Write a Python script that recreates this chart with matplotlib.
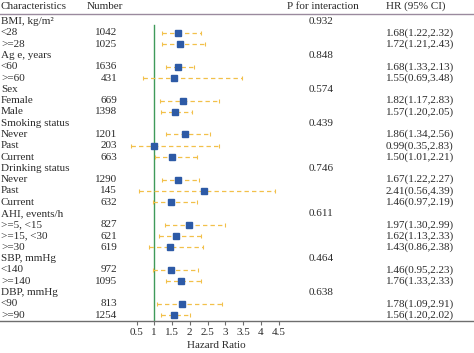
import matplotlib
matplotlib.use('Agg')
import matplotlib.pyplot as plt

groups = ['BMI, kg/m\u00b2', 'Ag e, years', 'Sex', 'Smoking status',
          'Drinking status', 'AHI, events/h', 'SBP, mmHg', 'DBP, mmHg']
p_inter = ['0.932', '0.848', '0.574', '0.439', '0.746', '0.611', '0.464', '0.638']
subgroups = [
    ['<28', '>=28'],
    ['<60', '>=60'],
    ['Female', 'Male'],
    ['Never', 'Past', 'Current'],
    ['Never', 'Past', 'Current'],
    ['>=5, <15', '>=15, <30', '>=30'],
    ['<140', '>=140'],
    ['<90', '>=90'],
]
numbers = [[1042, 1025], [1636, 431], [669, 1398], [1201, 203, 663],
           [1290, 145, 632], [827, 621, 619], [972, 1095], [813, 1254]]
hr = [[1.68, 1.72], [1.68, 1.55], [1.82, 1.57], [1.86, 0.99, 1.50],
      [1.67, 2.41, 1.46], [1.97, 1.62, 1.43], [1.46, 1.76], [1.78, 1.56]]
lo = [[1.22, 1.21], [1.33, 0.69], [1.17, 1.20], [1.34, 0.35, 1.01],
      [1.22, 0.56, 0.97], [1.30, 1.13, 0.86], [0.95, 1.33], [1.09, 1.20]]
hi = [[2.32, 2.43], [2.13, 3.48], [2.83, 2.05], [2.56, 2.83, 2.21],
      [2.27, 4.39, 2.19], [2.99, 2.33, 2.38], [2.23, 2.33], [2.91, 2.02]]
xticks = [0.5, 1, 1.5, 2, 2.5, 3, 3.5, 4, 4.5]

plt.rcParams['font.family'] = ['Liberation Serif', 'DejaVu Serif']
TXT = '#2b2b2b'
FS = 8.0

fig = plt.figure(figsize=(4.74, 3.53), dpi=100)
ax = fig.add_axes([0, 0.0907, 1, 0.9086])
# x range chosen so that HR 1 sits at ~154 px and 4.5 at ~278 px
ax.set_xlim(-3.346, 10.006)
ax.set_ylim(26.53, -1.9)
tr = ax.get_yaxis_transform()

# header
hy = -1.35
ax.text(0.002, hy, 'Characteristics', transform=tr, ha='left', va='center', fontsize=FS, color=TXT)
ax.text(0.183, hy, 'Number', transform=tr, ha='left', va='center', fontsize=FS, color=TXT)
ax.text(0.605, hy, 'P for interaction', transform=tr, ha='left', va='center', fontsize=FS, color=TXT)
ax.text(0.814, hy, 'HR (95% CI)', transform=tr, ha='left', va='center', fontsize=FS, color=TXT)
ax.axhline(-0.64, color='#9a8a9e', lw=1.0)

row = 0
for g, name in enumerate(groups):
    ax.text(0.002, row, name, transform=tr, ha='left', va='center', fontsize=FS, color=TXT)
    ax.text(0.651, row, p_inter[g], transform=tr, ha='left', va='center', fontsize=FS, color=TXT)
    row += 1
    for k, sub in enumerate(subgroups[g]):
        ax.text(0.002, row, sub, transform=tr, ha='left', va='center', fontsize=FS, color=TXT)
        ax.text(0.247, row, str(numbers[g][k]), transform=tr, ha='right', va='center',
                fontsize=FS, color=TXT)
        ax.text(0.814, row, f'{hr[g][k]:.2f}({lo[g][k]:.2f},{hi[g][k]:.2f})', transform=tr,
                ha='left', va='center', fontsize=FS, color=TXT)
        ax.plot([lo[g][k], hi[g][k]], [row, row], color='#f2c04a', lw=0.9,
                ls=(0, (3.5, 2.5)), zorder=2)
        ax.plot([lo[g][k], hi[g][k]], [row, row], ls='none', marker='|', ms=3,
                color='#f2c04a', mew=0.8, zorder=2)
        ax.plot(hr[g][k], row, marker='s', ms=5, color='#2d5aa6', zorder=3)
        row += 1

ax.plot([1, 1], [0.3, 26.53], color='#3f9a5a', lw=1.0, zorder=1)

for s in ['top', 'left', 'right']:
    ax.spines[s].set_visible(False)
ax.spines['bottom'].set_color('#6e6e6e')
ax.spines['bottom'].set_linewidth(1.0)
ax.set_yticks([])
ax.set_xticks(xticks)
ax.set_xticklabels([f'{t:g}' for t in xticks], fontsize=FS, color=TXT)
ax.tick_params(axis='x', length=3, width=0.8, color='#6e6e6e', pad=2)
fig.text((154.3 + 1.75 * 35.5) / 474, (353 - 345) / 353, 'Hazard Ratio',
         ha='center', va='center', fontsize=FS, color=TXT)

fig.savefig('out.png', dpi=100)
